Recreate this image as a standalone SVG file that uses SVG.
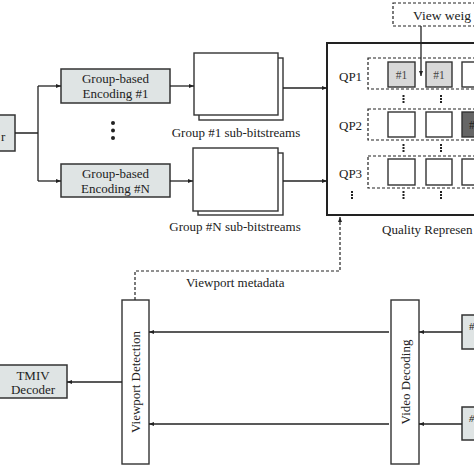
<svg xmlns="http://www.w3.org/2000/svg" width="474" height="474" viewBox="0 0 474 474">
<style>
text{font-family:"Liberation Serif","Times New Roman",serif;font-size:13px;fill:#222}
.gbox{fill:#dfe4e4;stroke:#333;stroke-width:1.5}
.wbox{fill:#fff;stroke:#333;stroke-width:1.4}
.ln{fill:none;stroke:#222;stroke-width:1.3}
.dash{fill:none;stroke:#222;stroke-width:1.2;stroke-dasharray:3 2}
.sq{fill:#fff;stroke:#333;stroke-width:1.4}
.dot{fill:#222}
</style>
<defs>
<marker id="ah" viewBox="0 0 10 10" refX="10" refY="5" markerWidth="5" markerHeight="5" orient="auto" markerUnits="userSpaceOnUse">
<path d="M0,1 L10,5 L0,9 z" fill="#222"/>
</marker>
</defs>
<rect width="474" height="474" fill="#fff"/>

<g id="encoder">
<rect class="gbox" x="-5" y="115" width="20" height="36"/>
<text x="1" y="141">r</text>
</g>

<g id="enc1">
<rect class="gbox" x="61" y="69" width="109" height="34"/>
<text x="115.5" y="83" text-anchor="middle">Group-based</text>
<text x="115.5" y="98" text-anchor="middle">Encoding #1</text>
</g>
<g id="encN">
<rect class="gbox" x="61" y="164" width="109" height="33"/>
<text x="115.5" y="178" text-anchor="middle">Group-based</text>
<text x="115.5" y="193" text-anchor="middle">Encoding #N</text>
</g>
<g id="vdots">
<circle class="dot" cx="113" cy="123" r="2"/>
<circle class="dot" cx="113" cy="130.5" r="2"/>
<circle class="dot" cx="113" cy="138" r="2"/>
</g>

<g id="sub1">
<rect class="wbox" x="199" y="58" width="84" height="62"/>
<rect class="wbox" x="194" y="53" width="84" height="62"/>
<text x="236" y="137" text-anchor="middle">Group #1 sub-bitstreams</text>
</g>
<g id="subN">
<rect class="wbox" x="198" y="153" width="85" height="62"/>
<rect class="wbox" x="193" y="148" width="85" height="63"/>
<text x="235" y="231" text-anchor="middle">Group #N sub-bitstreams</text>
</g>

<g id="viewweight">
<rect class="dash" x="393" y="3" width="90" height="23"/>
<text x="413" y="20" style="font-size:13.5px">View weig</text>
</g>

<g id="quality">
<rect fill="#fff" stroke="#222" stroke-width="2" x="327" y="43" width="160" height="172"/>
<text x="382" y="234">Quality Represen</text>
<text x="339" y="81">QP1</text>
<text x="339" y="130">QP2</text>
<text x="339" y="178">QP3</text>
<rect class="dash" x="368" y="58" width="120" height="31"/>
<rect class="dash" x="368" y="109" width="120" height="31"/>
<rect class="dash" x="368" y="156" width="120" height="32"/>
<rect class="sq" x="388" y="62" width="27" height="25" fill="#d9d9d9" style="fill:#d9d9d9"/>
<text x="401.5" y="79" text-anchor="middle" style="font-size:11.5px;fill:#444">#1</text>
<rect class="sq" x="426" y="62" width="26" height="25" style="fill:#d9d9d9"/>
<text x="439" y="79" text-anchor="middle" style="font-size:11.5px;fill:#444">#1</text>
<rect class="sq" x="462" y="62" width="26" height="25"/>
<rect class="sq" x="388" y="112" width="27" height="25"/>
<rect class="sq" x="426" y="112" width="26" height="25"/>
<rect class="sq" x="462" y="112" width="26" height="25" style="fill:#666"/>
<text x="469" y="129" style="font-size:11.5px;fill:#222">#</text>
<rect class="sq" x="388" y="159" width="27" height="26"/>
<rect class="sq" x="426" y="159" width="26" height="26"/>
<rect class="sq" x="462" y="159" width="26" height="26"/>
<g class="dot">
<rect x="402.5" y="95" width="2" height="2"/><rect x="402.5" y="98" width="2" height="2"/><rect x="402.5" y="101" width="2" height="2"/>
<rect x="440" y="95" width="2" height="2"/><rect x="440" y="98" width="2" height="2"/><rect x="440" y="101" width="2" height="2"/>
<rect x="402.5" y="144" width="2" height="2"/><rect x="402.5" y="147" width="2" height="2"/><rect x="402.5" y="150" width="2" height="2"/>
<rect x="440" y="144" width="2" height="2"/><rect x="440" y="147" width="2" height="2"/><rect x="440" y="150" width="2" height="2"/>
<rect x="351" y="191" width="2" height="2"/><rect x="351" y="194" width="2" height="2"/><rect x="351" y="197" width="2" height="2"/>
<rect x="402.5" y="191" width="2" height="2"/><rect x="402.5" y="194" width="2" height="2"/><rect x="402.5" y="197" width="2" height="2"/>
<rect x="440" y="191" width="2" height="2"/><rect x="440" y="194" width="2" height="2"/><rect x="440" y="197" width="2" height="2"/>
</g>
</g>

<g id="viewport">
<rect class="wbox" x="122" y="300" width="27" height="164"/>
<text transform="translate(139.5,382) rotate(-90)" text-anchor="middle">Viewport Detection</text>
</g>
<g id="videodec">
<rect class="wbox" x="391" y="300" width="28" height="164"/>
<text transform="translate(409.5,382) rotate(-90)" text-anchor="middle">Video Decoding</text>
</g>
<g id="tmivdec">
<rect class="gbox" x="-5" y="365" width="72" height="33"/>
<text x="33" y="380" text-anchor="middle">TMIV</text>
<text x="33" y="394" text-anchor="middle">Decoder</text>
</g>
<g id="in1">
<rect class="gbox" x="462" y="315" width="20" height="34"/>
<text x="469" y="330" style="font-size:11px">#</text>
</g>
<g id="in2">
<rect class="gbox" x="462" y="407" width="20" height="33"/>
<text x="469" y="422" style="font-size:11px;font-style:italic">#</text>
</g>
<text x="186" y="287">Viewport metadata</text>

<g id="connectors">
<path class="ln" d="M15,133 H38 M38,86 V181"/>
<path class="ln" d="M38,86 H61" marker-end="url(#ah)"/>
<path class="ln" d="M38,181 H61" marker-end="url(#ah)"/>
<path class="ln" d="M170,86 H194" marker-end="url(#ah)"/>
<path class="ln" d="M170,181 H193" marker-end="url(#ah)"/>
<path class="ln" d="M283,88 H327" marker-end="url(#ah)"/>
<path class="ln" d="M283,181 H327" marker-end="url(#ah)"/>
<path class="ln" d="M421,26 V76" marker-end="url(#ah)"/>
<path class="dash" d="M135,300 V271 H340 V217" marker-end="url(#ah)"/>
<path class="ln" d="M389,332 H149" marker-end="url(#ah)"/>
<path class="ln" d="M389,424 H149" marker-end="url(#ah)"/>
<path class="ln" d="M462,332 H419" marker-end="url(#ah)"/>
<path class="ln" d="M462,424 H419" marker-end="url(#ah)"/>
<path class="ln" d="M122,382 H67" marker-end="url(#ah)"/>
</g>
</svg>
